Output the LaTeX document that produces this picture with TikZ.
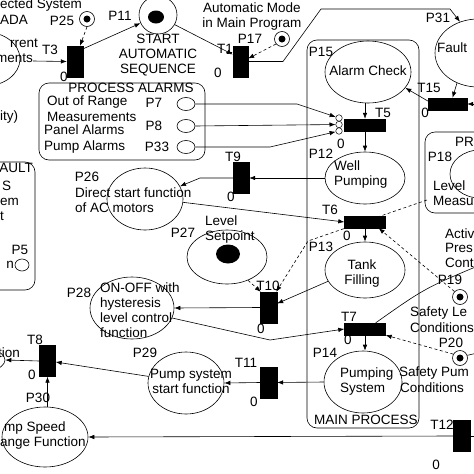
\documentclass[tikz,border=0pt]{standalone}
\usepackage{fontspec}
\setmainfont{Liberation Sans}
\usetikzlibrary{shapes.geometric,arrows.meta,calc}
\newcommand\myfs{\fontsize{13.5}{15}\selectfont}
\begin{document}
\begin{tikzpicture}[x=1pt,y=-1pt]
\tikzset{
  pl/.style={draw, ellipse, inner sep=0pt, line width=0.6pt},
  tr/.style={draw, fill=black, inner sep=0pt, line width=0.4pt},
  vt/.style={tr, minimum width=16pt, minimum height=31pt},
  ht/.style={tr, minimum width=41pt, minimum height=12pt},
  sp/.style={draw, circle, inner sep=0pt, minimum size=15pt, line width=0.6pt},
  tok/.style={fill=black, circle, inner sep=0pt, minimum size=7pt},
  bigtok/.style={fill=black, ellipse, inner sep=0pt, minimum width=16pt, minimum height=13pt},
  tx/.style={inner sep=0pt, font=\myfs, align=center},
  txl/.style={inner sep=0pt, font=\myfs, align=left, anchor=west},
  txr/.style={inner sep=0pt, font=\myfs, anchor=east},
  ar/.style={line width=0.6pt, -{Latex[length=6pt,width=4.5pt]}},
  ln/.style={line width=0.6pt},
  da/.style={ar, dash pattern=on 3pt off 2.5pt},
  box/.style={draw, rounded corners=10pt, line width=0.6pt},
  inh/.style={draw, circle, fill=white, inner sep=0pt, minimum size=6.5pt, line width=0.5pt}
}
\useasboundingbox (0,0) rectangle (474,474);
\fill[white] (0,0) rectangle (474,474);
\clip (0,0) rectangle (474,474);

% boxes
\draw[box] (39,83) rectangle (205,160);
\draw[box] (307,40) rectangle (419,428);
\draw[box] (425,132) rectangle (520,213);
\draw[box] (-50,162) rectangle (35,290);

% places
\node[pl, minimum width=70pt, minimum height=54pt] (Pcur) at (-15,59) {};
\node[pl, minimum width=38pt, minimum height=38pt] (P11) at (158,15) {};
\node[bigtok] (P11k) at (156,17) {};
\node[pl, minimum width=86pt, minimum height=68pt] (P31) at (478,53) {};
\node[pl, minimum width=86pt, minimum height=62pt] (P15) at (368,72) {};
\node[pl, minimum width=80pt, minimum height=52pt] (P12) at (365,178) {};
\node[pl, minimum width=60pt, minimum height=48pt] (P18) at (480,174) {};
\node[pl, minimum width=76pt, minimum height=62pt] (P26) at (145,199) {};
\node[pl, minimum width=80pt, minimum height=54pt] (P27) at (227,257) {};
\node[bigtok, minimum width=24pt, minimum height=19pt] (P27k) at (228,254) {};
\node[pl, minimum width=80pt, minimum height=56pt] (P13) at (365,270) {};
\node[pl, minimum width=84pt, minimum height=62pt] (P28) at (132,308) {};
\node[pl, minimum width=78pt, minimum height=62pt] (P14) at (363,382) {};
\node[pl, minimum width=76pt, minimum height=62pt] (P29) at (186,383) {};
\node[pl, minimum width=86pt, minimum height=60pt] (P30) at (45,437) {};
\node[pl, minimum width=90pt, minimum height=32pt] (Pout) at (-40,360) {};

\node[sp] (P25) at (87,19) {}; \node[tok] (P25k) at (P25) {};
\node[sp] (P17) at (282,39) {}; \node[tok] (P17k) at (P17) {};
\node[sp] (P19) at (460,297) {}; \node[tok] (P19k) at (P19) {};
\node[sp] (P20) at (460,358) {}; \node[tok] (P20k) at (P20) {};
\node[pl, minimum width=18pt, minimum height=13pt] (P7) at (186,104) {};
\node[pl, minimum width=18pt, minimum height=13pt] (P8) at (186,126) {};
\node[pl, minimum width=18pt, minimum height=13pt] (P33) at (186,147) {};
\node[pl, minimum width=14pt, minimum height=12pt] (P5) at (22,265) {};

% texts
\node[txl] (t1) at (0,5) {ected System};
\node[txl] (t2) at (0,20) {ADA};
\node[tx] (lP25) at (62,21) {P25};
\node[tx] (lP11) at (120,16) {P11};
\node[tx] (tP11) at (158,55) {START\\AUTOMATIC\\SEQUENCE};
\node[tx] (tAM) at (252,17) {Automatic Mode\\in Main Program};
\node[tx] (lP17) at (250,38.5) {P17};
\node[txr] (t3) at (38,43) {rrent};
\node[txr] (t4) at (33,58) {ments};
\node[txl] (t5) at (0,117) {ity)};
\node[tx] (tPA) at (131,88) {PROCESS ALARMS};
\node[txl] (t6) at (47,102.5) {Out of Range};
\node[txl] (t7) at (47,116.5) {Measurements};
\node[txl] (t8) at (44,129.5) {Panel Alarms};
\node[txl] (t9) at (44,147) {Pump Alarms};
\node[tx] (lP7) at (154,103) {P7};
\node[tx] (lP8) at (154,126) {P8};
\node[tx] (lP33) at (157,147) {P33};
\node[tx] (lP31) at (438,18) {P31};
\node[txl] (tP31) at (437,48) {Fault};
\node[tx] (lP15) at (321,52) {P15};
\node[tx] (tP15) at (368,71) {Alarm Check};
\node[tx] (lP12) at (321,154) {P12};
\node[txl] (tP12) at (334,175) {Well\\Pumping};
\node[tx] (lP26) at (87,177) {P26};
\node[txl] (tP26) at (75,200) {Direct start function\\of AC motors};
\node[tx] (lP27) at (183,233) {P27};
\node[txl] (tP27) at (205,230) {Level\\Setpoint};
\node[tx] (lP13) at (321,247) {P13};
\node[tx] (tP13) at (362,274) {Tank\\Filling};
\node[tx] (lP28) at (79,293) {P28};
\node[txl] (tP28) at (100,310.5) {ON-OFF with\\hysteresis\\level control\\function};
\node[tx] (lP14) at (325,353) {P14};
\node[txl] (tP14) at (340,382) {Pumping\\System};
\node[tx] (lP29) at (145,353) {P29};
\node[tx] (tP29) at (191,381) {Pump system\\start function};
\node[txr] (tout) at (20,353) {tion};
\node[tx] (lP30) at (38,398) {P30};
\node[txl] (tP30a) at (4,428) {mp Speed};
\node[txl] (tP30b) at (0,443) {ange Function};
\node[tx] (tMP) at (366,420) {MAIN PROCESS};
\node[txl] (tPR) at (455,142) {PRO};
\node[tx] (lP18) at (440,157) {P18};
\node[txl] (tP18a) at (433,186) {Level};
\node[txl] (tP18b) at (433,201) {Measu};
\node[txl] (ta1) at (445,234) {Activ};
\node[txl] (ta2) at (445,248) {Pres};
\node[txl] (ta3) at (445,263) {Cont};
\node[tx] (lP19) at (450,280) {P19};
\node[txl] (ts1) at (410,313) {Safety Le};
\node[txl] (ts2) at (410,328) {Conditions};
\node[tx] (lP20) at (451,343) {P20};
\node[txl] (ts3) at (399,373) {Safety Pum};
\node[txl] (ts4) at (400,388) {Conditions};
\node[txr] (tf1) at (33,168) {AULT};
\node[txl] (tf2) at (2,186) {S};
\node[txl] (tf3) at (0,202) {em};
\node[txl] (tf4) at (0,216) {t};
\node[tx] (lP5) at (20,250) {P5};
\node[txr] (tf5) at (14,265) {n};

% transition labels
\node[tx] (lT3) at (50,50) {T3};   \node[tx] (zT3) at (64,77) {0};
\node[tx] (lT1) at (225,49) {T1};  \node[tx] (zT1) at (218,73) {0};
\node[tx] (lT15) at (429,88) {T15}; \node[tx] (zT15) at (425,113) {0};
\node[tx] (lT5) at (383,113) {T5}; \node[tx] (zT5) at (341,144) {0};
\node[tx] (lT9) at (233,157) {T9}; \node[tx] (zT9) at (231,197) {0};
\node[tx] (lT6) at (330,210) {T6}; \node[tx] (zT6) at (347,236) {0};
\node[tx] (lT10) at (268,286) {T10}; \node[tx] (zT10) at (261,329) {0};
\node[tx] (lT7) at (349,317) {T7}; \node[tx] (zT7) at (348,340) {0};
\node[tx] (lT11) at (246,363) {T11}; \node[tx] (zT11) at (254,402) {0};
\node[tx] (lT8) at (35,340) {T8}; \node[tx] (zT8) at (32,375) {0};
\node[tx] (lT12) at (442,425) {T12}; \node[tx] (zT12) at (436,465) {0};

% transitions
\node[vt] (T3) at (75,61.5) {};
\node[vt, minimum width=15pt] (T1) at (240.5,61.5) {};
\node[vt] (T9) at (241,178) {};
\node[vt, minimum width=17pt] (T10) at (268.5,307.5) {};
\node[vt, minimum width=17pt] (T11) at (268.5,382.5) {};
\node[vt] (T8) at (47.5,361) {};
\node[vt, minimum width=17pt] (T12) at (461.5,436) {};
\node[ht] (T5) at (365,125) {};
\node[ht] (T6) at (365,222) {};
\node[ht] (T7) at (365,329) {};
\node[ht, minimum width=39pt] (T15) at (447.5,104) {};
\node[inh] (c1) at (339,118) {};
\node[inh] (c2) at (339,124.5) {};
\node[inh] (c3) at (339,131) {};

% coordinates
\coordinate (a0) at (33,61);
\coordinate (r15) at (490,104);
\coordinate (m18) at (427,200);
\coordinate (r7) at (485,263);
\coordinate (r20) at (490,350);
\coordinate (r12) at (490,436);

% connectors
\draw[ar] (a0) -- (T3.west);
\draw[da] (P25.south) -- ($(T3.north)+(5,0)$);
\draw[ar] ($(T3.north east)+(0,3)$) -- (P11.205);
\draw[ar] (P11.-30) -- ($(T1.west)+(0,-7)$);
\draw[da] (P17.220) -- ($(T1.east)+(0,-3)$);
\draw[ar] (T1.east) -- (283,61.5) -- (321,9) -- (450,9) -- (P31.120);
\draw[ar] (P31.235) -- ($(T15.north)+(5,0)$);
\draw[ar] ($(T15.west)+(0,-3)$) -- (P15.-23);
\draw[ar] (r15) -- (T15.east);
\draw[ar] (T5.north |- P15.south) -- (T5.north);
\draw[ar] (P7.east) -- (297,104) -- (c1);
\draw[ar] (P8.east) -- (c2);
\draw[ar] (P33.east) -- (270,147) -- (c3);
\draw[ar] (T5.south) -- (T5.south |- P12.north);
\draw[ar] (P12.west) -- (T9.east);
\draw[ar] (T9.west) -- (200,178) -- (P26.20);
\draw[ar] (P26.-5) -- (T6.west);
\draw[ar] (T6.south) -- (T6.south |- P13.north);
\draw[da] (m18) -- (308,241) -- ($(T10.north east)+(-1,0)$);
\draw[da] (P27.-48) -- ($(T10.north west)+(1,0)$);
\draw[ar] (P13.197) -- ($(T10.east)+(0,-4)$);
\draw[ar] (T10.west) -- (P28.east);
\draw[ar] (P28.-14) -- (270,340) -- (T7.west);
\draw[da] (P19.135) -- ($(T6.south east)+(-7,0)$);
\draw[ln] (r7) .. controls (425,288) .. ($(T7.north east)+(-10,0)$);
\draw[da] (P20.150) -- (T7.south east);
\draw[ln] (P20.20) -- (r20);
\draw[ar] (T7.south) -- (T7.south |- P14.north);
\draw[ar] (P14.west) -- (T11.east);
\draw[ar] (T11.west) -- (P29.east);
\draw[ar] (P29.170) -- ($(T8.east)+(0,1)$);
\draw[ar] (T8.west) -- (Pout.east);
\draw[ar] (T8.south |- P30.north) -- (T8.south);
\draw[ar] (T12.west) -- (P30.east);
\draw[ln] (T12.east) -- (r12);
\end{tikzpicture}
\end{document}
